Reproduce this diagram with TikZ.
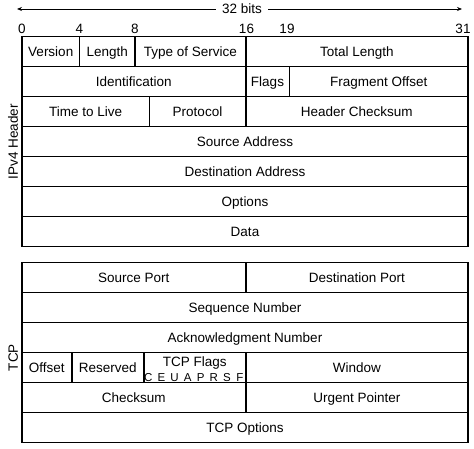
\documentclass[tikz,border=0pt]{standalone}
\usepackage{fontspec}
\setmainfont{Liberation Sans}
\usetikzlibrary{arrows.meta}
\begin{document}
\begin{tikzpicture}[x=1pt,y=-1pt,
  every node/.style={font=\fontsize{13.5}{15}\selectfont, inner sep=0pt, text height=9.7pt, text depth=0pt},
  cell/.style={draw=black, line width=1.6pt},
  bitnum/.style={font=\fontsize{13.5}{15}\selectfont},
  flagletter/.style={font=\fontsize{11.5}{12}\selectfont, text height=8.2pt},
  sidelabel/.style={rotate=90},
  dim/.style={line width=0.8pt, {Stealth[length=5pt,width=4pt]}-{Stealth[length=5pt,width=4pt]}}]
\useasboundingbox (0,0) rectangle (474,449);
% 32 bits arrow
\coordinate (aL) at (17,9);
\coordinate (aR) at (462,9);
\draw[dim] (aL) -- (aR);
\node[fill=white, inner xsep=6pt, inner ysep=2pt] (bits) at (242,9) {32 bits};
% bit numbers
\node[bitnum] (n0) at (22,29) {0};
\node[bitnum] (n4) at (79.5,29) {4};
\node[bitnum] (n8) at (135,29) {8};
\node[bitnum] (n16) at (246.5,29) {16};
\node[bitnum] (n19) at (287,29) {19};
\node[bitnum] (n31) at (463,29) {31};
% IPv4 header
\draw[cell] (22,36.7) rectangle node (ver) {Version} (79.5,66.7);
\draw[cell] (79.5,36.7) rectangle node (len) {Length} (135,66.7);
\draw[cell] (135,36.7) rectangle node (tos) {Type of Service} (245.7,66.7);
\draw[cell] (245.7,36.7) rectangle node (tlen) {Total Length} (468,66.7);
\draw[cell] (22,66.7) rectangle node (ident) {Identification} (245.7,96.7);
\draw[cell] (245.7,66.7) rectangle node (flags) {Flags} (289.3,96.7);
\draw[cell] (289.3,66.7) rectangle node (frag) {Fragment Offset} (468,96.7);
\draw[cell] (22,96.7) rectangle node (ttl) {Time to Live} (149.3,126.7);
\draw[cell] (149.3,96.7) rectangle node (proto) {Protocol} (245.7,126.7);
\draw[cell] (245.7,96.7) rectangle node (hcs) {Header Checksum} (468,126.7);
\draw[cell] (22,126.7) rectangle node (src) {Source Address} (468,156.7);
\draw[cell] (22,156.7) rectangle node (dst) {Destination Address} (468,186.7);
\draw[cell] (22,186.7) rectangle node (opt) {Options} (468,216.7);
\draw[cell] (22,216.7) rectangle node (data) {Data} (468,246.7);
\node[sidelabel] (iplab) at (13,141.7) {IPv4 Header};
% TCP header
\draw[cell] (22,262.5) rectangle node (sport) {Source Port} (245.7,292.5);
\draw[cell] (245.7,262.5) rectangle node (dport) {Destination Port} (468,292.5);
\draw[cell] (22,292.5) rectangle node (seq) {Sequence Number} (468,322.5);
\draw[cell] (22,322.5) rectangle node (ack) {Acknowledgment Number} (468,352.5);
\draw[cell] (22,352.5) rectangle node (off) {Offset} (71.7,382.5);
\draw[cell] (71.7,352.5) rectangle node (res) {Reserved} (144,382.5);
\draw[cell] (144,352.5) rectangle (245.7,382.5);
\node (tcpflags) at (194.8,361.7) {TCP Flags};
\foreach \l [count=\i from 0] in {C,E,U,A,P,R,S,F} {
  \node[flagletter] (fl\i) at (148.3+\i*13.1,377.3) {\l};
}
\draw[cell] (245.7,352.5) rectangle node (win) {Window} (468,382.5);
\draw[cell] (22,382.5) rectangle node (csum) {Checksum} (245.7,412.5);
\draw[cell] (245.7,382.5) rectangle node (urg) {Urgent Pointer} (468,412.5);
\draw[cell] (22,412.5) rectangle node (topt) {TCP Options} (468,442.5);
\node[sidelabel] (tcplab) at (13,357.5) {TCP};
\end{tikzpicture}
\end{document}
